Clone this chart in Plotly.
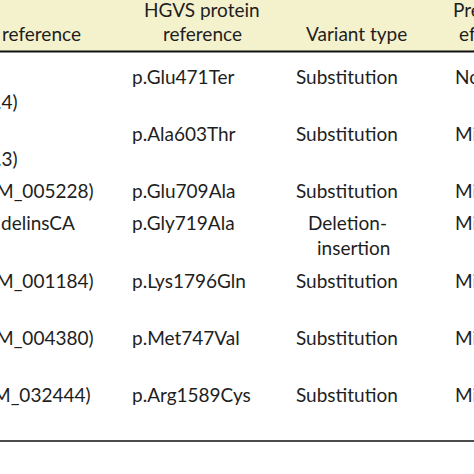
import plotly.graph_objects as go

# Column 1 (clipped cDNA reference fragments): text, y
col1_text = ["reference", ".4)", ".3)", "M_005228)", "delinsCA", "M_001184)", "M_004380)", "M_032444)"]
col1_y = [33, 101, 158, 190, 222, 280, 337, 394]
col1_right = [83, 20, 20, 96, 77, 96, 96, 93]

protein = ["p.Glu471Ter", "p.Ala603Thr", "p.Glu709Ala", "p.Gly719Ala", "p.Lys1796Gln", "p.Met747Val", "p.Arg1589Cys"]
vtype = ["Substitution", "Substitution", "Substitution", "Deletion-", "Substitution", "Substitution", "Substitution"]
effect = ["Nonsense", "Missense", "Missense", "Missense", "Missense", "Missense", "Missense"]
row_y = [76, 133, 190, 222, 280, 337, 394]
extra_text = ["insertion"]
extra_y = [247]

headers = [("HGVS protein", 202, 9, "center"), ("reference", 202, 33, "center"),
           ("Variant type", 356, 33, "center"), ("Predicted", 451, 9, "left"), ("effect", 457, 33, "left")]

FONT = dict(family="Lato, Open Sans, sans-serif", size=19, color="#1e1e1e")
ann = []
def add(t, x, y, anchor):
    ann.append(dict(text=t, x=x, y=y, xref="x", yref="y", xanchor=anchor, yanchor="middle",
                    showarrow=False, font=FONT))

for t, y, r in zip(col1_text, col1_y, col1_right):
    add(t, r, y, "right")
for t, x, y, a in headers:
    add(t, x, y, a)
for p, v, e, y in zip(protein, vtype, effect, row_y):
    add(p, 130, y, "left")
    add(v, 347, y, "center")
    add(e, 453, y, "left")
for t, y in zip(extra_text, extra_y):
    add(t, 353, y, "center")

fig = go.Figure()
fig.update_layout(
    width=474, height=474, margin=dict(l=0, r=0, t=0, b=0),
    paper_bgcolor="white", plot_bgcolor="white", showlegend=False,
    xaxis=dict(range=[0, 474], visible=False, fixedrange=True),
    yaxis=dict(range=[474, 0], visible=False, fixedrange=True),
    annotations=ann,
    shapes=[
        dict(type="rect", x0=0, x1=474, y0=0, y1=51, xref="x", yref="y",
             fillcolor="#f4f1cd", line=dict(width=0), layer="below"),
        dict(type="line", x0=0, x1=474, y0=51.5, y1=51.5, xref="x", yref="y",
             line=dict(color="#111", width=2.2)),
        dict(type="line", x0=0, x1=474, y0=441, y1=441, xref="x", yref="y",
             line=dict(color="#111", width=1.6)),
    ],
)
fig.write_html("out.html", config={"displayModeBar": False})
with open("out.html", encoding="utf-8") as f:
    html = f.read()
html = html.replace("<body>", "<body style=\"margin:0;overflow:hidden\">", 1)
with open("out.html", "w", encoding="utf-8") as f:
    f.write(html)
